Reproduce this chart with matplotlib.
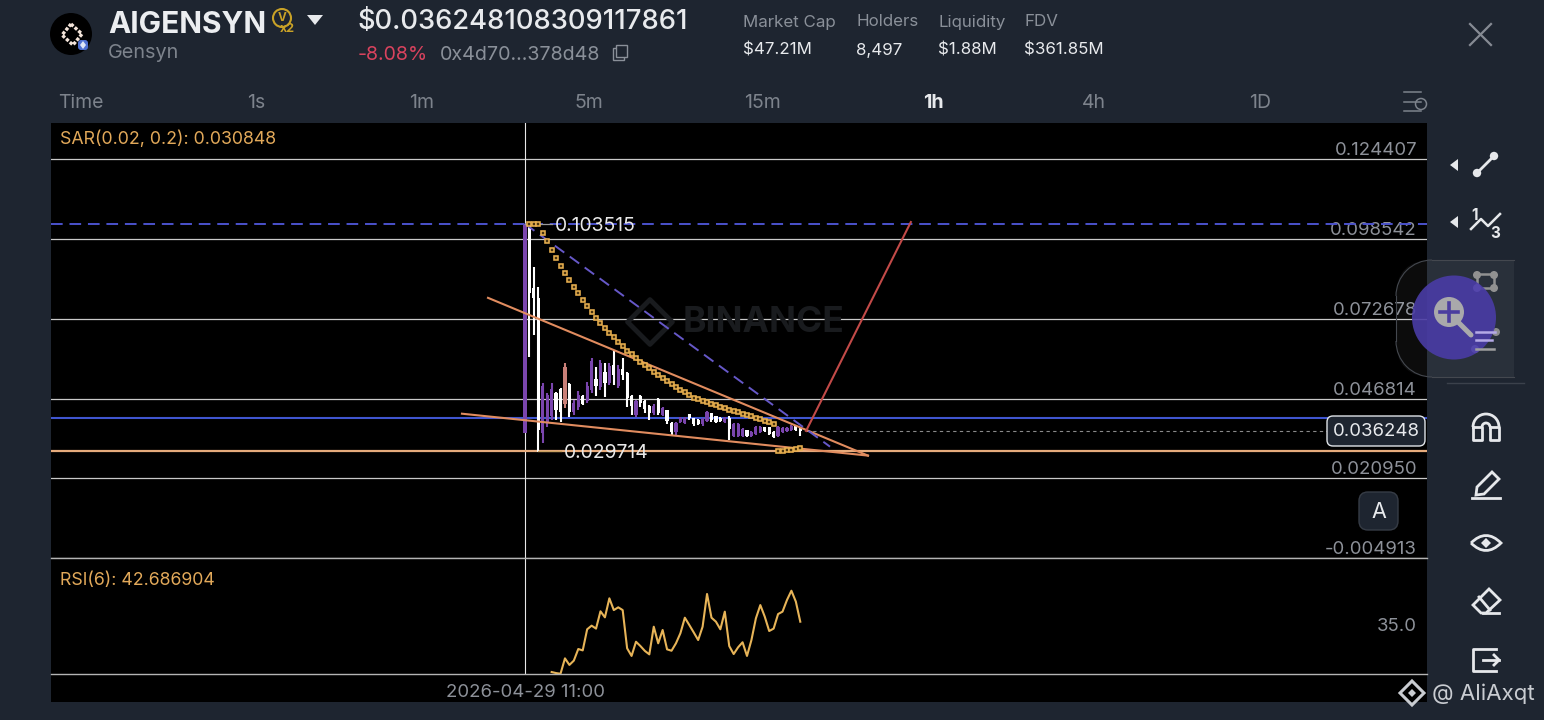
import numpy as np
import matplotlib
matplotlib.use("Agg")
import matplotlib.pyplot as plt
from matplotlib.patches import Circle, FancyBboxPatch, Polygon, Rectangle, Arc
from matplotlib.path import Path
from matplotlib.patches import PathPatch

plt.rcParams['font.family'] = ['Inter', 'DejaVu Sans']

# ---- data ----
candle_open = [.0357,.1030,.0827,.0795,.0357,.0390,.0410,.0487,.0500,.0450,.0516,.0425,.0440,.0475,.0460,.0495,.0530,.0505,.0555,.0518,.0578,.0510,.0565,.0550,.0475,.0415,.0475,.0460,.0445,.0420,.0468,.0415,.0430,.0390,.0360,.0392,.0390,.0417,.0404,.0400,.0384,.0396,.0420,.0410,.0405,.0393,.0405,.0348,.0348,.0347,.0365,.0346,.0353,.0360,.0375,.0375,.0360,.0348,.0360,.0362,.0365,.0378,.0372]
candle_close = [.1030,.0811,.0795,.0367,.0509,.0480,.0500,.0430,.0425,.0570,.0425,.0455,.0480,.0452,.0510,.0590,.0510,.0585,.0520,.0575,.0545,.0565,.0545,.0470,.0445,.0460,.0455,.0435,.0420,.0445,.0420,.0438,.0395,.0360,.0390,.0405,.0405,.0405,.0385,.0386,.0402,.0425,.0397,.0393,.0395,.0405,.0370,.0385,.0385,.0370,.0346,.0360,.0376,.0376,.0362,.0354,.0344,.0376,.0372,.0372,.0380,.0365,.03625]
candle_high = [.1035,.1035,.0896,.0831,.0519,.0487,.0519,.0490,.0503,.0584,.0519,.0464,.0493,.0480,.0523,.0600,.0571,.0594,.0584,.0584,.0626,.0578,.0600,.0555,.0480,.0464,.0480,.0464,.0448,.0451,.0471,.0442,.0432,.0393,.0393,.0409,.0409,.0419,.0406,.0403,.0406,.0429,.0422,.0412,.0409,.0409,.0412,.0390,.0390,.0373,.0367,.0363,.0380,.0380,.0377,.0377,.0363,.0380,.0377,.0377,.0383,.0380,.0373]
candle_low = [.0357,.0604,.0675,.0295,.0325,.0377,.0399,.0399,.0393,.0438,.0409,.0416,.0432,.0448,.0455,.0487,.0477,.0497,.0474,.0513,.0513,.0503,.0529,.0442,.0416,.0409,.0442,.0422,.0399,.0416,.0416,.0412,.0386,.0351,.0351,.0390,.0386,.0399,.0380,.0383,.0380,.0393,.0393,.0390,.0393,.0390,.0334,.0344,.0344,.0344,.0344,.0344,.0351,.0357,.0360,.0351,.0341,.0344,.0357,.0360,.0363,.0363,.0347]
sar_values = [.1035,.1035,.1035,.1007,.0978,.0951,.0924,.0899,.0875,.0852,.0831,.0810,.0789,.0769,.0750,.0731,.0714,.0698,.0682,.0667,.0652,.0638,.0624,.0612,.0600,.0588,.0578,.0567,.0555,.0545,.0536,.0526,.0516,.0506,.0497,.0490,.0480,.0471,.0466,.0461,.0456,.0451,.0446,.0441,.0437,.0432,.0428,.0424,.0419,.0416,.0411,.0406,.0401,.0396,.0391,.0386,.0297,.0299,.0300,.0302,.0304,.030848]
sar_first_bar = 1
rsi_values = [13.6,13.0,12.6,21.5,17.7,20.2,26.9,26.1,38.3,40.4,38.7,48.7,45.2,56.2,49.4,51.0,49.4,27.3,22.9,31.1,28.6,25.8,23.8,39.8,30.2,37.9,26.7,25.9,30.2,36.0,45.0,40.8,36.5,32.1,39.8,58.7,45.0,42.7,38.3,48.5,28.6,24.0,27.9,30.8,22.9,32.1,44.6,52.3,45.6,37.3,38.7,47.1,48.5,55.2,60.6,54.3,42.686904]
rsi_first_bar = 6
price_ticks = [0.124407, 0.098542, 0.072678, 0.046814, 0.020950, -0.004913]
rsi_tick = 35.0
high_price = 0.103515
low_price = 0.029714
last_price = 0.036248
support_price = 0.0406
upper_trend_x, upper_trend_y = [-8.33, 77.25], [.0795, .0283]
lower_trend_x, lower_trend_y = [-14.2, 77.25], [.0419, .0283]
dashed_trend_x, dashed_trend_y = [0.0, 68.7], [.1035, .0312]
target_x, target_y = [63.3, 86.9], [.0363, .1041]
time_tabs = ["Time", "1s", "1m", "5m", "15m", "1h", "4h", "1D"]
tab_x = [81, 256, 422, 589, 762, 933, 1094, 1260]
stats_labels = ["Market Cap", "Holders", "Liquidity", "FDV"]
stats_values = ["$47.21M", "8,497", "$1.88M", "$361.85M"]
stats_x = [743, 856, 938, 1024]

BG = '#1e2530'
PURPLE = '#7a45ad'
ORANGE = '#e9b04f'
SALMON = '#e18c5f'
W, H = 1544, 720

fig = plt.figure(figsize=(W / 100, H / 100), dpi=100, facecolor=BG)
fig.add_artist(Rectangle((51 / W, 1 - 702 / H), 1376 / W, 579 / H, transform=fig.transFigure,
                         fc='black', ec='none', zorder=-1))

def px_axes(x0, y0, x1, y1):
    return fig.add_axes([x0 / W, 1 - y1 / H, (x1 - x0) / W, (y1 - y0) / H])

# ---- main pane ----
slope = (price_ticks[0] - price_ticks[1]) / 79.75
ax = px_axes(51, 123, 1427, 558)
ax.set_facecolor('black')
bar_px = 4.44
ax.set_xlim((51 - 525) / bar_px, (1427 - 525) / bar_px)
ax.set_ylim(price_ticks[-1] - 0.00002, price_ticks[0] + slope * (159.5 - 123))
for s in ax.spines.values():
    s.set_visible(False)
ax.set_xticks([])
ax.set_yticks(price_ticks)
ax.set_yticklabels([f"{v:.6f}" for v in price_ticks])
ax.yaxis.tick_right()
ax.tick_params(axis='y', length=0, pad=-7.2, labelcolor='#8d9199', labelsize=13.4)
for lab in ax.get_yticklabels():
    lab.set_ha('right')
    lab.set_va('bottom')
ax.grid(axis='y', color='#c9c9c9', lw=0.9, zorder=1)
ax.set_axisbelow(True)

ax.text(0.4593, 0.5425, "BINANCE", transform=ax.transAxes, color='#191b1e', fontsize=25.5,
        fontweight='bold', va='center', ha='left', zorder=1)
ax.scatter([0.4353], [0.5425], transform=ax.transAxes, marker='D', s=520, facecolor='none',
           edgecolor='#191b1e', lw=3.5, zorder=1)

ax.axvline(-0.1, color='#e8e8e8', lw=0.8, zorder=2)
ax.axhline(high_price, color='#4b52cc', lw=1.4, ls=(0, (6, 3.5)), zorder=2)
ax.axhline(support_price, color='#4056d0', lw=1.5, zorder=2)
ax.axhline(low_price, color='#e6ab7c', lw=1.6, zorder=2)
ax.plot([63.3, (1327 - 525) / bar_px], [last_price, last_price], color='#8a8a8a', lw=0.8,
        ls=(0, (3, 3)), zorder=2)

bars = np.arange(len(candle_open))
o, c, hi, lo = map(np.array, (candle_open, candle_close, candle_high, candle_low))
colors = [PURPLE if c[i] >= o[i] else '#ffffff' for i in bars]
colors[9] = '#c98078'
ax.vlines(bars, lo, hi, colors=colors, lw=1.5, zorder=3)
ax.bar(bars, np.abs(c - o), bottom=np.minimum(o, c), width=0.72, color=colors, zorder=3)

ax.plot(upper_trend_x, upper_trend_y, color=SALMON, lw=1.5, zorder=4)
ax.plot(lower_trend_x, lower_trend_y, color=SALMON, lw=1.5, zorder=4)
ax.plot(dashed_trend_x, dashed_trend_y, color='#6658c8', lw=1.4, ls=(0, (6, 3.5)), zorder=4)
ax.plot(target_x, target_y, color='#c24a48', lw=1.5, zorder=4)

sar_x = np.arange(sar_first_bar, sar_first_bar + len(sar_values))
ax.plot(sar_x, sar_values, ls='none', marker='s', ms=3.5, mfc='#4a3410', mec=ORANGE, mew=1.15, zorder=5)

ax.plot([0, 6.0], [high_price, high_price], color='#9a9a9a', lw=0.9, zorder=4)
ax.plot([3, 8.0], [low_price, low_price], color='#c9a060', lw=0.9, zorder=4)
ax.annotate(f"{high_price:.6f}", (0, high_price), xytext=(30 * .72, -2 * .72), textcoords='offset points',
            color='#e8e8e8', fontsize=13.9, va='center', zorder=6)
ax.annotate(f"{low_price:.6f}", (3, low_price), xytext=(26 * .72, -2 * .72), textcoords='offset points',
            color='#e8e8e8', fontsize=13.9, va='center', zorder=6)
ax.text(0.0065, 0.9615, "SAR(0.02, 0.2): 0.030848", transform=ax.transAxes, color='#e2a95a',
        fontsize=12.8, va='center')

# ---- RSI pane ----
rsi_per_px = 0.578
rax = px_axes(51, 558, 1427, 674)
rax.set_facecolor('black')
rax.set_xlim(ax.get_xlim())
rax.set_ylim(42.686904 + (621.7 - 674) * rsi_per_px, 42.686904 + (621.7 - 558) * rsi_per_px)
for n, s in rax.spines.items():
    s.set_visible(n in ('bottom', 'top'))
    s.set_color('#b4b4b4')
    s.set_linewidth(1.0)
rax.axvline(-0.1, color='#e8e8e8', lw=0.8)
rsi_x = np.arange(rsi_first_bar, rsi_first_bar + len(rsi_values))
rax.plot(rsi_x, rsi_values, color='#e7b458', lw=1.5, clip_on=True)
rax.set_yticks([rsi_tick])
rax.set_yticklabels([f"{rsi_tick:.1f}"])
rax.yaxis.tick_right()
rax.tick_params(axis='y', length=0, pad=-7.2, labelcolor='#8d9199', labelsize=13.4)
for lab in rax.get_yticklabels():
    lab.set_ha('right')
    lab.set_va('bottom')
rax.set_xticks([0])
rax.set_xticklabels(["2026-04-29 11:00"])
rax.tick_params(axis='x', length=0, pad=7, labelcolor='#8d9199', labelsize=13.4)
rax.text(0.0065, 0.81, "RSI(6): 42.686904", transform=rax.transAxes, color='#e2a95a',
         fontsize=12.8, va='center')

# ---- interface chrome on a pixel overlay ----
ui = fig.add_axes([0, 0, 1, 1], facecolor='none', zorder=10)
ui.set_xlim(0, W)
ui.set_ylim(H, 0)
ui.axis('off')

def txt(x, y, s, color='#e8eaed', size=13, weight='normal', ha='left', **kw):
    ui.text(x, y + 1.5, s, color=color, fontsize=size, fontweight=weight, ha=ha, va='center', **kw)

GREY = '#7d838c'
ICON = '#e6e8eb'
# logo
ui.add_patch(Circle((71, 34), 21, fc='black', ec='none'))
ui.add_patch(Polygon([(71, 24), (82, 34), (73, 45), (62, 35)], closed=True, fc='none', ec='#f3e4da', lw=2.4, ls=(0, (1, .5))))
ui.add_patch(FancyBboxPatch((78, 40), 10, 10, boxstyle="round,pad=0,rounding_size=3", fc='#4e6fd0', ec='none'))
ui.add_patch(Polygon([(83, 41), (86, 45), (83, 49), (80, 45)], closed=True, fc='#dfe6f5', ec='none'))
txt(108, 23.5, "AIGENSYN", '#eceef1', 21.5, 'bold')
txt(108, 52, "Gensyn", GREY, 14.3)
ui.add_patch(Circle((282, 18), 9, fc='none', ec='#c9a227', lw=1.5))
txt(282, 16.5, "V", '#c9a227', 8.5, 'bold', ha='center')
txt(287, 27.5, "x2", '#c9a227', 9, 'bold', ha='center')
ui.add_patch(Polygon([(307, 15), (323, 15), (315, 25)], closed=True, fc='#e8eaed', ec='none'))
txt(358, 20.5, "$0.036248108309117861", '#e8eaed', 19.7, 'medium')
txt(358, 53, "-8.08%", '#d9435e', 14.1)
txt(440, 53, "0x4d70...378d48", '#8a9099', 14.2)
ui.add_patch(Rectangle((613, 48), 11, 12, fc='none', ec='#8a9099', lw=1))
ui.add_patch(Rectangle((616, 45), 11, 12, fc=BG, ec='#8a9099', lw=1))
for x, a, b in zip(stats_x, stats_labels, stats_values):
    txt(x, 20.5, a, '#8a9099', 12.2)
    txt(x, 48.5, b, '#e8eaed', 12.2)
ui.plot([1470, 1491], [24, 45], color='#868b93', lw=1.6)
ui.plot([1470, 1491], [45, 24], color='#868b93', lw=1.6)

for label, x in zip(time_tabs, tab_x):
    active = label == "1h"
    txt(x, 101, label, '#e8eaed' if active else GREY, 14, 'bold' if active else 'normal', ha='center')
for yy in (92, 102, 111):
    ui.plot([1404, 1421], [yy, yy], color='#7d838c', lw=1.1)
ui.add_patch(Circle((1421, 104), 5.5, fc=BG, ec='#7d838c', lw=1.1))

# price tag and auto button
ui.add_patch(FancyBboxPatch((1327, 416), 98, 30, boxstyle="round,pad=0,rounding_size=6", fc=BG, ec='#dfe3e8', lw=1))
txt(1376, 430.5, f"{last_price:.6f}", '#e8eaed', 13.4, ha='center')
ui.add_patch(FancyBboxPatch((1359, 492), 39, 38, boxstyle="round,pad=0,rounding_size=9", fc=BG, ec='#363c46', lw=1))
txt(1378.5, 510, "A", '#e8eaed', 15.5, ha='center')

# right tool column
for yy in (165, 222):
    ui.add_patch(Polygon([(1450, yy), (1458, yy - 6), (1458, yy + 6)], closed=True, fc=ICON, ec='none'))
ui.plot([1477, 1494], [173, 156], color=ICON, lw=2)
ui.add_patch(Circle((1477, 173), 4.2, fc=ICON, ec='none'))
ui.add_patch(Circle((1494, 156), 4.2, fc=ICON, ec='none'))
ui.plot([1471, 1481, 1488, 1500], [229, 219, 226, 214], color=ICON, lw=1.8)
txt(1475, 214, "1", ICON, 11, 'bold', ha='center')
txt(1495, 232, "3", ICON, 11, 'bold', ha='center')
ui.add_patch(Polygon([(1477, 274), (1494, 274), (1494, 288), (1477, 288)], closed=True, fc='none', ec='#8c8c8c', lw=1.8))
for px_, py_ in [(1477, 275), (1494, 275), (1494, 288)]:
    ui.add_patch(Circle((px_, py_), 4, fc='#8c8c8c', ec='none'))
ui.add_patch(Circle((1477, 288), 4, fc='#b4a9e6', ec='none'))
# magnifier bubble, open on its right edge
bubble = FancyBboxPatch((1396, 260), 160, 117, boxstyle="round,pad=0,rounding_size=36",
                        fc='#ffffff', alpha=0.05, ec='none')
ui.add_patch(bubble)
bubble.set_clip_path(Rectangle((1396, 260), 118, 117, transform=ui.transData))
ui.plot([1432, 1514], [260, 260], color='#44484f', lw=0.8)
ui.plot([1432, 1514], [377, 377], color='#44484f', lw=0.8)
ui.add_patch(Arc((1432, 296), 72, 72, theta1=180, theta2=270, color='#44484f', lw=0.8))
ui.add_patch(Arc((1432, 341), 72, 72, theta1=90, theta2=180, color='#44484f', lw=0.8))
ui.plot([1396, 1396], [296, 341], color='#44484f', lw=0.8)
ui.plot([1447, 1524], [383, 383], color='#3b414b', lw=1)
ui.plot([1476, 1495], [332, 332], color='#b4a9e6', lw=1.8)
ui.plot([1476, 1492], [340, 340], color='#b4a9e6', lw=1.8)
ui.plot([1476, 1494], [349, 349], color='#9f9f9f', lw=1.8)
ui.add_patch(Circle((1496, 332), 4, fc='#8c8c8c', ec='none'))
ui.add_patch(Circle((1475, 349), 4, fc='#b4a9e6', ec='none'))
ui.add_patch(Circle((1454, 317.5), 42, fc='#4a3ca6', ec='none', alpha=0.9))
ui.add_patch(Circle((1449, 312), 15, fc='#a9a9ab', ec='none'))
ui.plot([1459, 1471], [323, 335], color='#a9a9ab', lw=3.6, solid_capstyle='round')
ui.plot([1440, 1458], [312, 312], color='#4b3d9f', lw=2.6)
ui.plot([1449, 1449], [303, 321], color='#4b3d9f', lw=2.6)

# magnet
ui.add_patch(Arc((1486, 427), 26, 26, theta1=180, theta2=360, color=ICON, lw=2))
ui.add_patch(Arc((1486, 427), 8, 8, theta1=180, theta2=360, color=ICON, lw=2))
for seg in ([1473, 1473, 1482, 1482, 1473], [1490, 1490, 1499, 1499, 1490]):
    ui.plot(seg, [427, 440, 440, 427, 427], color=ICON, lw=2)
# pencil
ui.add_patch(Polygon([(1477, 487), (1492, 472), (1499, 479), (1484, 494), (1476, 495)], closed=True, fc='none', ec=ICON, lw=2))
ui.plot([1472, 1500], [498, 498], color=ICON, lw=2)
# eye
ui.add_patch(PathPatch(Path([(1471, 543), (1486, 528), (1501, 543), (1486, 558), (1471, 543)],
                            [Path.MOVETO, Path.CURVE3, Path.CURVE3, Path.CURVE3, Path.CURVE3]), fc='none', ec=ICON, lw=2))
ui.add_patch(Polygon([(1486, 538), (1491, 543), (1486, 548), (1481, 543)], closed=True, fc=ICON, ec='none'))
# eraser
ui.add_patch(Polygon([(1473, 605), (1489, 589), (1500, 600), (1486, 613), (1481, 613)], closed=True, fc='none', ec=ICON, lw=2))
ui.plot([1479, 1490], [597, 610], color=ICON, lw=2)
ui.plot([1483, 1499], [613, 613], color=ICON, lw=2)
# exit
ui.plot([1496, 1473, 1473, 1496], [649, 649, 671, 671], color=ICON, lw=2)
ui.plot([1483, 1499], [660, 660], color=ICON, lw=2)
ui.plot([1494, 1499, 1494], [655, 660, 665], color=ICON, lw=2)

# corner signature
ui.add_patch(Polygon([(1412, 681), (1424, 693), (1412, 705), (1400, 693)], closed=True, fc='none', ec='#c9ccd1', lw=2.2))
ui.add_patch(Polygon([(1412, 689), (1416, 693), (1412, 697), (1408, 693)], closed=True, fc='#c9ccd1', ec='none'))
txt(1432, 692.5, "@ AliAxqt", '#c9ccd1', 16)

fig.savefig("out.png", dpi=100, facecolor=BG)
